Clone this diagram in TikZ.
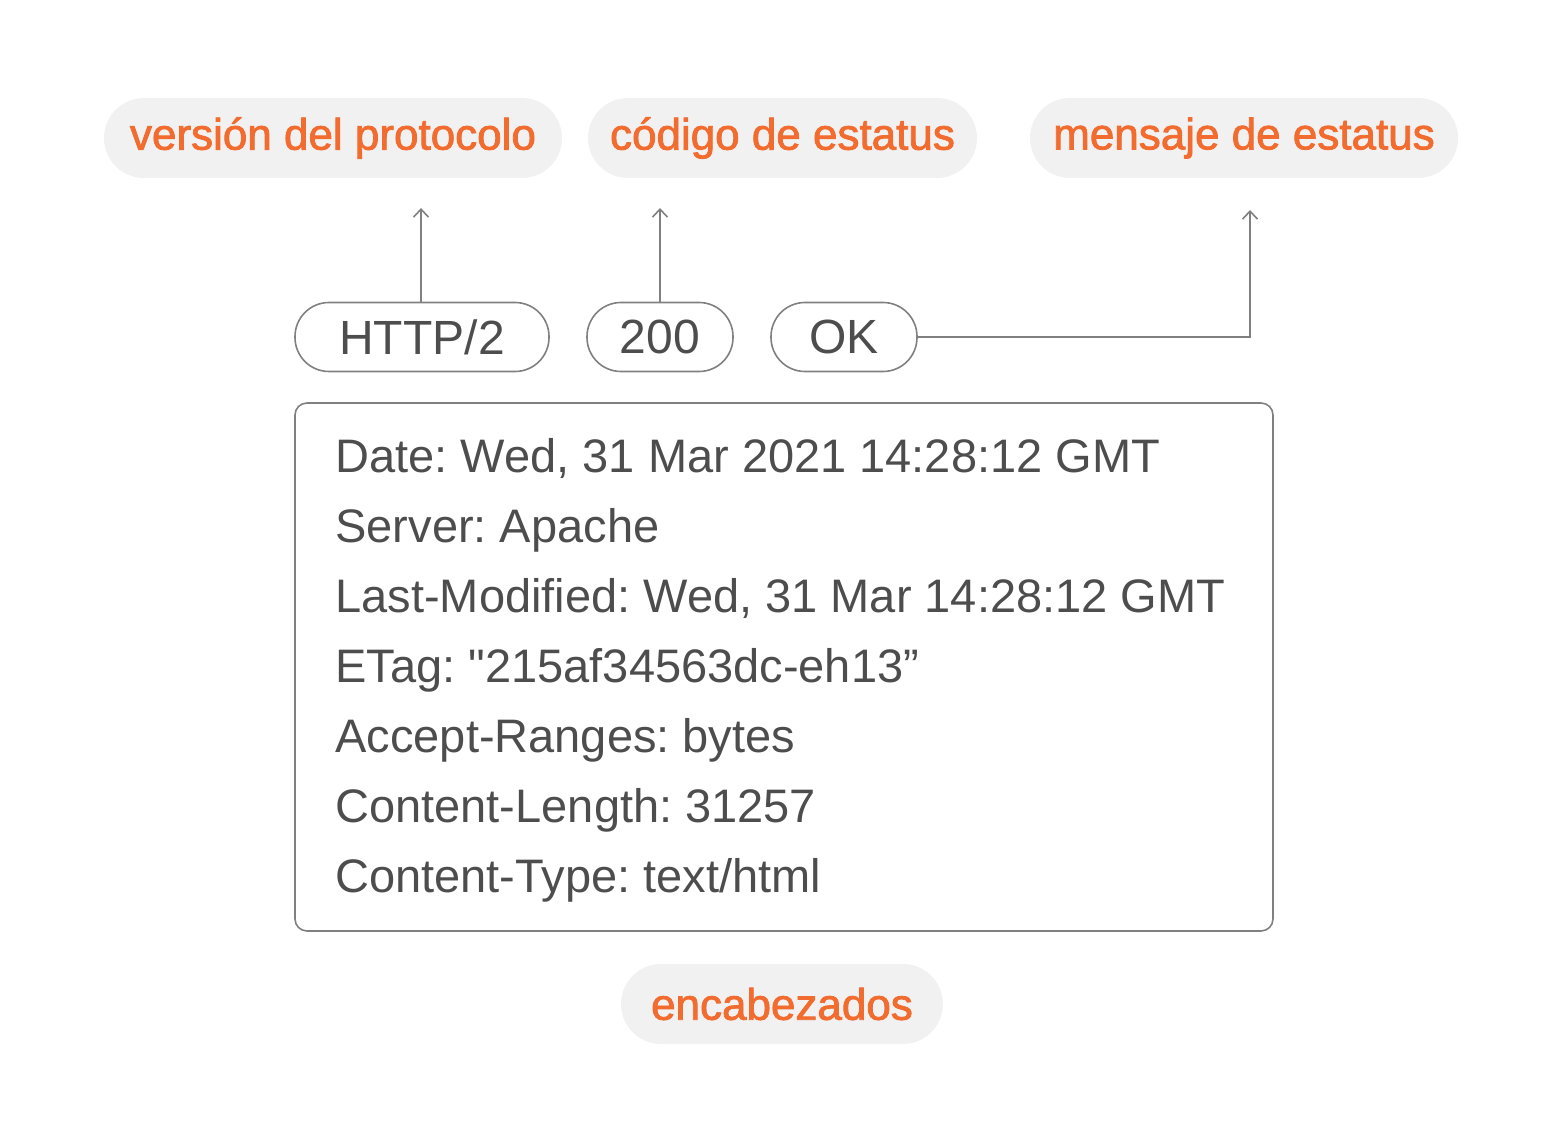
\documentclass[tikz,border=0pt]{standalone}
\usepackage{fontspec}
\setmainfont{Liberation Sans}
\newfontfamily\tagfont[FakeBold=1.8]{Liberation Sans}
\usetikzlibrary{positioning,arrows.meta}
\definecolor{tagorange}{HTML}{F26B2F}
\definecolor{tagfill}{HTML}{F1F1F1}
\definecolor{linegray}{HTML}{808080}
\definecolor{textgray}{HTML}{4D4D4D}
\frenchspacing
\begin{document}
\begin{tikzpicture}[x=0.5pt, y=-0.5pt,
  tag/.style = {shape=rectangle, rounded corners=20pt, fill=tagfill,
    text=tagorange, font=\tagfont\fontsize{22}{26}\selectfont,
    minimum height=40pt, minimum width=#1, inner sep=0pt},
  field/.style = {shape=rectangle, rounded corners=17pt, draw=linegray,
    line width=0.8pt, text=textgray, font=\fontsize{24}{28}\selectfont,
    minimum height=34.5pt, minimum width=#1, inner sep=0pt},
  link/.style = {-{Straight Barb[length=4pt,width=7.5pt]}, draw=linegray, line width=0.8pt}
  ]
  \useasboundingbox (0,0) rectangle (1568,1128);
  \node[tag=229pt] (version) at (333,138) {versión del protocolo};
  \node[tag=194.5pt] (codigo) at (782.5,138) {código de estatus};
  \node[tag=214pt] (mensaje) at (1244,138) {mensaje de estatus};

  \node[field=127pt] (proto) at (422,337) {HTTP/2};
  \node[field=73pt] (status) at (660,337) {200};
  \node[field=73pt] (reason) at (844,337) {OK};

  \coordinate (vtip) at (421,208);
  \coordinate (ctip) at (660,208);
  \coordinate (mtip) at (1250,210);
  \draw[link] (proto.north -| vtip) -- (vtip);
  \draw[link] (status.north) -- (ctip);
  \draw[link] (reason.east) -| (mtip);

  \node[draw=linegray, line width=0.8pt, rounded corners=6pt,
    minimum width=489pt, minimum height=264pt, inner sep=0pt]
    (headers) at (784,667) {};
  \node[anchor=north west, align=left, text=textgray, inner sep=0pt,
    font=\fontsize{23.5}{35}\selectfont] (lines) at (335,438) {%
    Date: Wed, 31 Mar 2021 14:28:12 GMT\\
    Server: Apache\\
    Last-Modified: Wed, 31 Mar 14:28:12 GMT\\
    ETag: \textquotedbl 215af34563dc-eh13”\\
    Accept-Ranges: bytes\\
    Content-Length: 31257\\
    Content-Type: text/html};

  \node[tag=161pt] (encab) at (782,1004) {encabezados};
\end{tikzpicture}
\end{document}
